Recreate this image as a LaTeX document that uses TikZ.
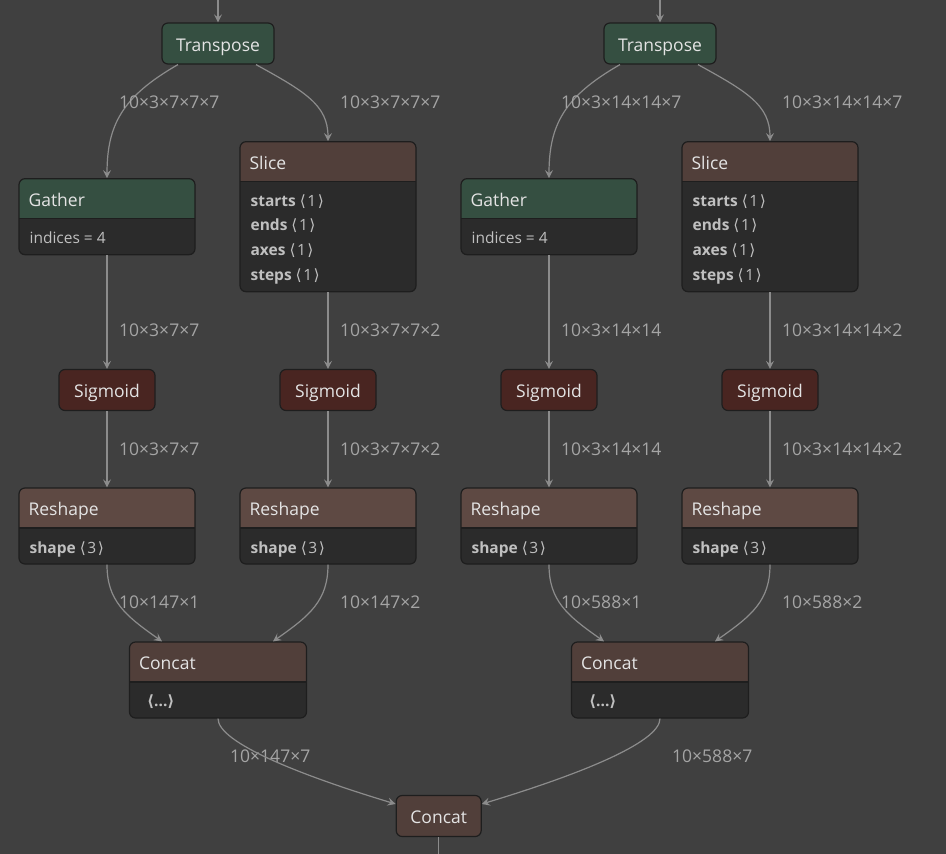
\documentclass[tikz,border=0pt]{standalone}
\usepackage{fontspec}
\setmainfont{Open Sans}
\newfontfamily\symfont{DejaVu Sans}
\usetikzlibrary{arrows.meta, positioning, backgrounds}
\definecolor{bgcol}{RGB}{64,64,64}
\definecolor{bodycol}{RGB}{43,43,43}
\definecolor{linecol}{RGB}{30,30,30}
\definecolor{trfcol}{RGB}{53,79,65}
\definecolor{shapecol}{RGB}{94,73,67}
\definecolor{tensorcol}{RGB}{81,63,58}
\definecolor{actcol}{RGB}{73,37,33}
\definecolor{edgecol}{RGB}{140,140,140}
\definecolor{labelcol}{RGB}{165,165,165}
\definecolor{titlecol}{RGB}{228,228,228}
\definecolor{attrcol}{RGB}{192,192,192}

\begin{document}
\begin{tikzpicture}[x=1pt, y=-1pt,
    every node/.style={inner sep=0pt},
    optitle/.style={font=\fontsize{17.5}{20}\selectfont, text=titlecol},
    simpleop/.style={optitle, draw=linecol, line width=1.2pt, rounded corners=6pt, fill=#1,
        minimum height=41pt, text height=17pt, text depth=2pt},
    opbox/.style={draw=linecol, line width=1.2pt, rounded corners=6pt, fill=bodycol, minimum width=176pt,
        path picture={
            \fill[#1, sharp corners] (path picture bounding box.north west) rectangle ([yshift=-40pt]path picture bounding box.north east);
            \draw[linecol, line width=1.2pt, sharp corners] ([yshift=-40pt]path picture bounding box.north west) -- ([yshift=-40pt]path picture bounding box.north east);
        }},
    title/.style={optitle, anchor=base west},
    attr/.style={font=\fontsize{15.5}{18}\selectfont, text=attrcol, anchor=base west},
    shapelbl/.style={font=\fontsize{17.5}{20}\selectfont, text=labelcol, anchor=base west},
    wire/.style={draw=edgecol, line width=1.2pt, -{Stealth[length=8pt, width=8pt, inset=3pt]}}
]
    % Canvas
    \useasboundingbox (0,0) rectangle (946,854);
    \fill[bgcol] (0,0) rectangle (946,854);

    % Two branches: 7x7 grid (left) and 14x14 grid (right)
    \foreach \side/\dx/\dd/\nn in {L/0/7/147, R/442/14/588} {
        \coordinate (in\side) at (218+\dx, 0);
        \node[simpleop=trfcol, minimum width=112pt] (trans\side) at (218+\dx, 43.5) {Transpose};

        % Gather and Slice
        \node[opbox=trfcol, minimum height=76pt] (gather\side) at (107+\dx, 216.7) {};
        \node[title] (gather\side-name) at ([shift={(10,28)}]gather\side.north west) {Gather};
        \node[attr] (gather\side-idx) at ([shift={(11,65)}]gather\side.north west) {indices = 4};

        \node[opbox=tensorcol, minimum height=150pt] (slice\side) at (328+\dx, 216.7) {};
        \node[title] (slice\side-name) at ([shift={(10,28)}]slice\side.north west) {Slice};
        \foreach \a [count=\i from 0] in {starts, ends, axes, steps}
            \node[attr] (slice\side-\a) at ([shift={(11,65+24.7*\i)}]slice\side.north west)
                {\textbf{\a}~{\symfont⟨}\hspace{1.5pt}1\hspace{1.5pt}{\symfont⟩}};

        % Sigmoids
        \node[simpleop=actcol, minimum width=96pt] (sigA\side) at (107+\dx, 390) {Sigmoid};
        \node[simpleop=actcol, minimum width=96pt] (sigB\side) at (328+\dx, 390) {Sigmoid};

        % Reshapes
        \foreach \r/\rx in {A/107, B/328} {
            \node[opbox=shapecol, minimum height=76pt] (resh\r\side) at (\rx+\dx, 526) {};
            \node[title] (resh\r\side-name) at ([shift={(10,28)}]resh\r\side.north west) {Reshape};
            \node[attr] (resh\r\side-shape) at ([shift={(11,66)}]resh\r\side.north west)
                {\textbf{shape}~{\symfont⟨}\hspace{1.5pt}3\hspace{1.5pt}{\symfont⟩}};
        }

        % Concat
        \node[opbox=tensorcol, minimum width=177pt, minimum height=76pt] (concat\side) at (218+\dx, 680) {};
        \node[title] (concat\side-name) at ([shift={(10,28)}]concat\side.north west) {Concat};
        \node[attr] (concat\side-inputs) at ([shift={(18,65)}]concat\side.north west)
            {\textbf{{\symfont⟨}...{\symfont⟩}}};

        % Edges
        \draw[wire] (in\side) -- (trans\side.north);
        \draw[wire] ([xshift=-40pt]trans\side.south) .. controls +(-56,32) and +(0,-53) .. (gather\side.north);
        \draw[wire] ([xshift=38pt]trans\side.south) .. controls +(49,27) and +(0,-36) .. (slice\side.north);
        \draw[wire] (gather\side.south) -- (sigA\side.north);
        \draw[wire] (slice\side.south) -- (sigB\side.north);
        \draw[wire] (sigA\side.south) -- (reshA\side.north);
        \draw[wire] (sigB\side.south) -- (reshB\side.north);
        \draw[wire] (reshA\side.south) .. controls +(0,36) and +(-37,-26) .. ([xshift=-56pt]concat\side.north);
        \draw[wire] (reshB\side.south) .. controls +(0,36) and +(37,-26) .. ([xshift=55pt]concat\side.north);

        % Tensor shapes
        \node[shapelbl] (lblA\side) at (119+\dx, 108) {10×3×\dd×\dd×7};
        \node[shapelbl] (lblB\side) at (340+\dx, 108) {10×3×\dd×\dd×7};
        \node[shapelbl] (lblC\side) at (119+\dx, 336) {10×3×\dd×\dd};
        \node[shapelbl] (lblD\side) at (340+\dx, 336) {10×3×\dd×\dd×2};
        \node[shapelbl] (lblE\side) at (119+\dx, 455) {10×3×\dd×\dd};
        \node[shapelbl] (lblF\side) at (340+\dx, 455) {10×3×\dd×\dd×2};
        \node[shapelbl] (lblG\side) at (119+\dx, 608) {10×\nn×1};
        \node[shapelbl] (lblH\side) at (340+\dx, 608) {10×\nn×2};
        \node[shapelbl] (lblI\side) at (230+\dx, 762) {10×\nn×7};
    }

    % Final concat
    \node[simpleop=tensorcol, minimum width=85pt] (concatAll) at (438.7, 816) {Concat};
    \coordinate (out) at (438.7, 854);
    \draw[wire] (concatL.south) .. controls +(0,24) and +(-96,-29) .. ([yshift=12pt]concatAll.west);
    \draw[wire] (concatR.south) .. controls +(0,24) and +(96,-29) .. ([yshift=12pt]concatAll.east);
    \draw[edgecol, line width=1.2pt] (concatAll.south) -- (out);
\end{tikzpicture}
\end{document}
